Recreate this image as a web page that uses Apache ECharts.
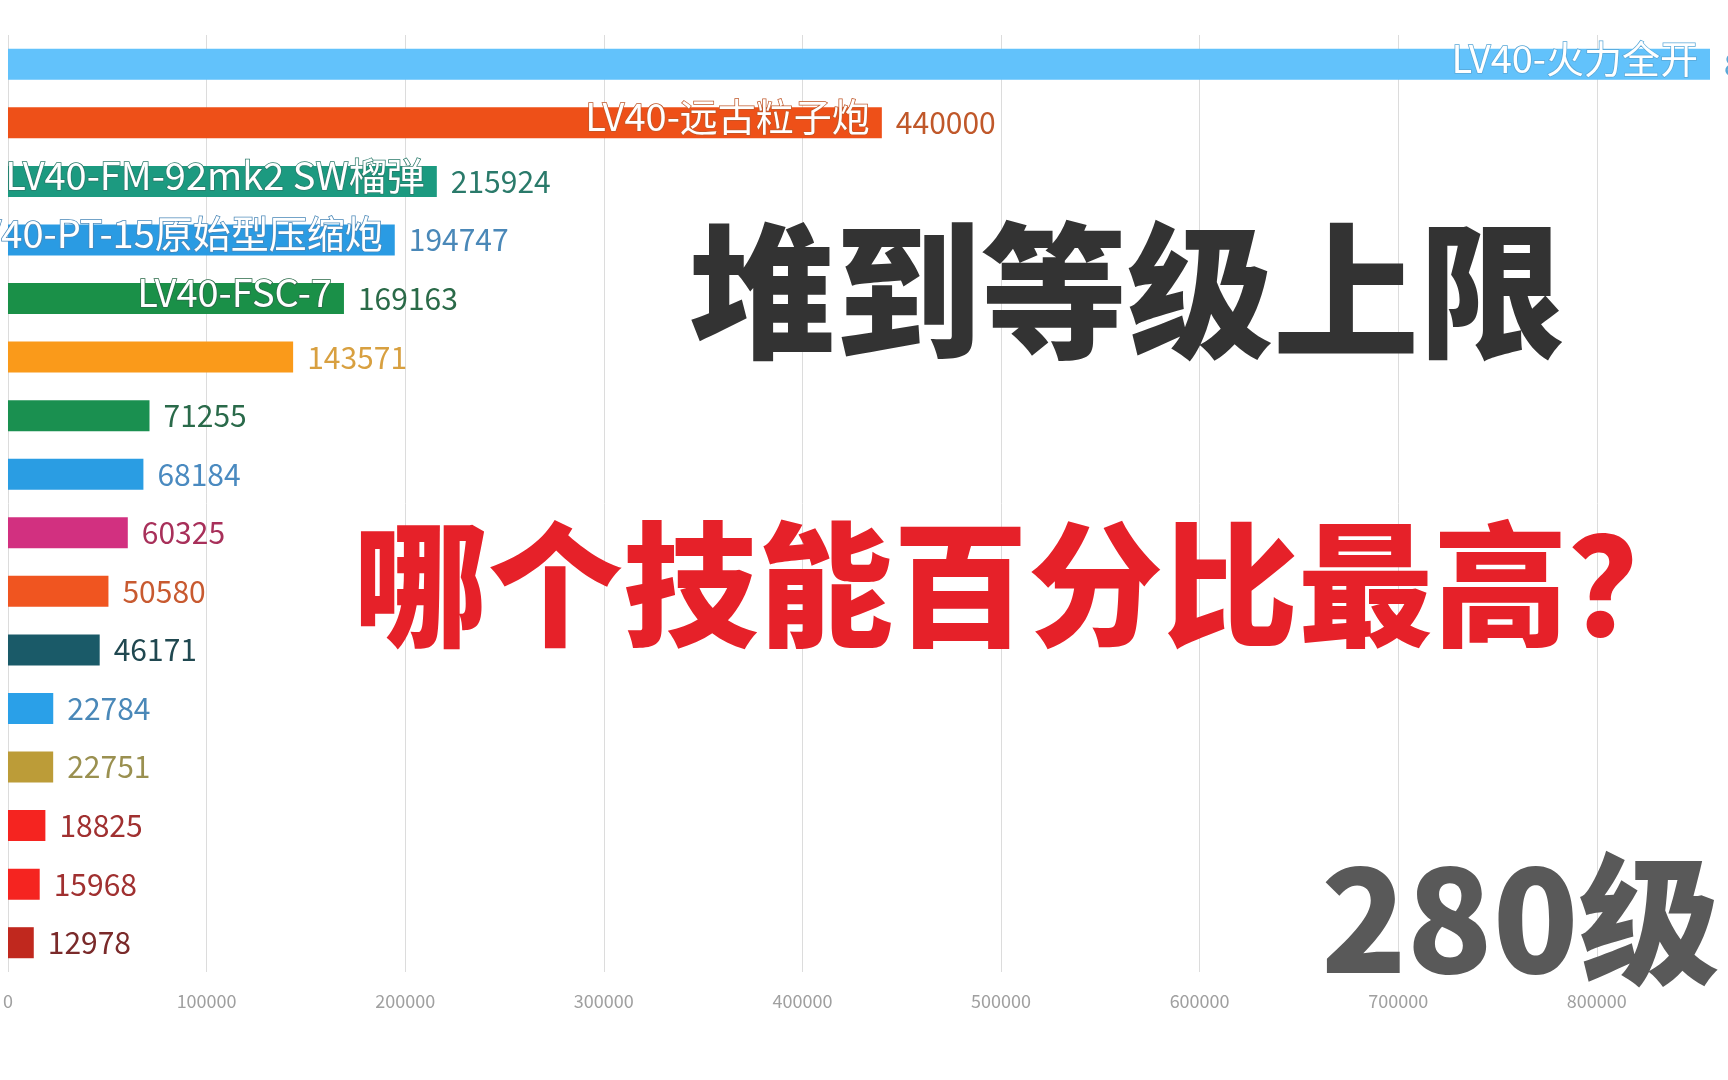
<!DOCTYPE html>
<html>
<head>
<meta charset="utf-8">
<script src="https://cdn.jsdelivr.net/npm/echarts@6/dist/echarts.min.js"></script>
<style>
html,body{margin:0;padding:0;background:#fff;}
#chart{width:1728px;height:1080px;}
</style>
</head>
<body>
<div id="chart"></div>
<script>
// ---- data ----
const ranks = ['1','2','3','4','5','6','7','8','9','10','11','12','13','14','15','16'];
const names = ['LV40-火力全开','LV40-远古粒子炮','LV40-FM-92mk2 SW榴弹','LV40-PT-15原始型压缩炮','LV40-FSC-7','','','','','','','','','','',''];
const values = [857000,440000,215924,194747,169163,143571,71255,68184,60325,50580,46171,22784,22751,18825,15968,12978];
const xTicks = [0,100000,200000,300000,400000,500000,600000,700000,800000];
const titleText = '堆到等级上限';
const questionText = '哪个技能百分比最高？';
const levelText = '280级';

// ---- styles ----
const barColors = ['#62c2fb','#ee5018','#1c9a80','#2a9be3','#1a9048','#fa9a1a','#1a9050','#2a9de3','#d23080','#f05520','#1a5a68','#2aa0e8','#bc9c38','#f52420','#f52420','#c0281e'];
const labelColors = ['#5aa8d8','#c0582a','#2a7a6a','#4a88b8','#2a6a48','#d8a040','#2a6a4a','#4a8ac0','#a8305a','#c85a30','#204850','#4a88b8','#9a9050','#a03030','#a03030','#7a2a2a'];

const chart = echarts.init(document.getElementById('chart'));
const font = '"Noto Sans CJK SC", "Open Sans", sans-serif';

chart.setOption({
  animation: false,
  backgroundColor: '#ffffff',
  grid: {left: 6, right: 18, top: 35, bottom: 108, containLabel: false},
  xAxis: {
    type: 'value',
    min: 0,
    max: 'dataMax',
    interval: 100000,
    axisLine: {show: false},
    axisTick: {show: false},
    splitLine: {show: true, showMaxLine: false, lineStyle: {color: '#dcdcdc', width: 1}},
    axisLabel: {
      show: true, margin: 20, color: '#a0a0a0', fontSize: 18, fontFamily: font,
      showMaxLabel: false,
      formatter: function (v) { return xTicks.indexOf(v) >= 0 ? String(v) : ''; }
    }
  },
  yAxis: {
    type: 'category',
    inverse: true,
    data: ranks,
    axisLine: {show: false},
    axisTick: {show: false},
    axisLabel: {show: false}
  },
  series: [
    {
      type: 'bar',
      barWidth: '53%',
      data: values.map((v, i) => ({value: v, itemStyle: {color: barColors[i]},
        label: {color: labelColors[i]}})),
      label: {
        show: true, position: 'right', distance: 14,
        fontSize: 30, fontFamily: font
      },
      z: 2
    },
    {
      type: 'bar',
      barWidth: '53%',
      barGap: '-100%',
      data: values.map((v, i) => ({value: v,
        label: {textBorderColor: labelColors[i]}})),
      itemStyle: {color: 'rgba(0,0,0,0)'},
      label: {
        show: true, position: 'insideRight', distance: 12,
        offset: [0, -6],
        color: '#ffffff', fontSize: 38, fontFamily: font,
        textBorderWidth: 1.5,
        formatter: function (p) { return names[p.dataIndex]; }
      },
      silent: true,
      z: 3
    }
  ],
  graphic: [
    {
      type: 'text', left: 689, top: 218, z: 10,
      style: {text: titleText, fill: '#333333', font: '900 146px ' + font}
    },
    {
      type: 'text', left: 353, top: 517, z: 10,
      style: {text: questionText, fill: '#e62129', font: '900 135px ' + font}
    },
    {
      type: 'text', left: 1321, top: 849, z: 10,
      style: {text: levelText, fill: '#595959', font: '900 141px ' + font}
    }
  ]
});
</script>
</body>
</html>
